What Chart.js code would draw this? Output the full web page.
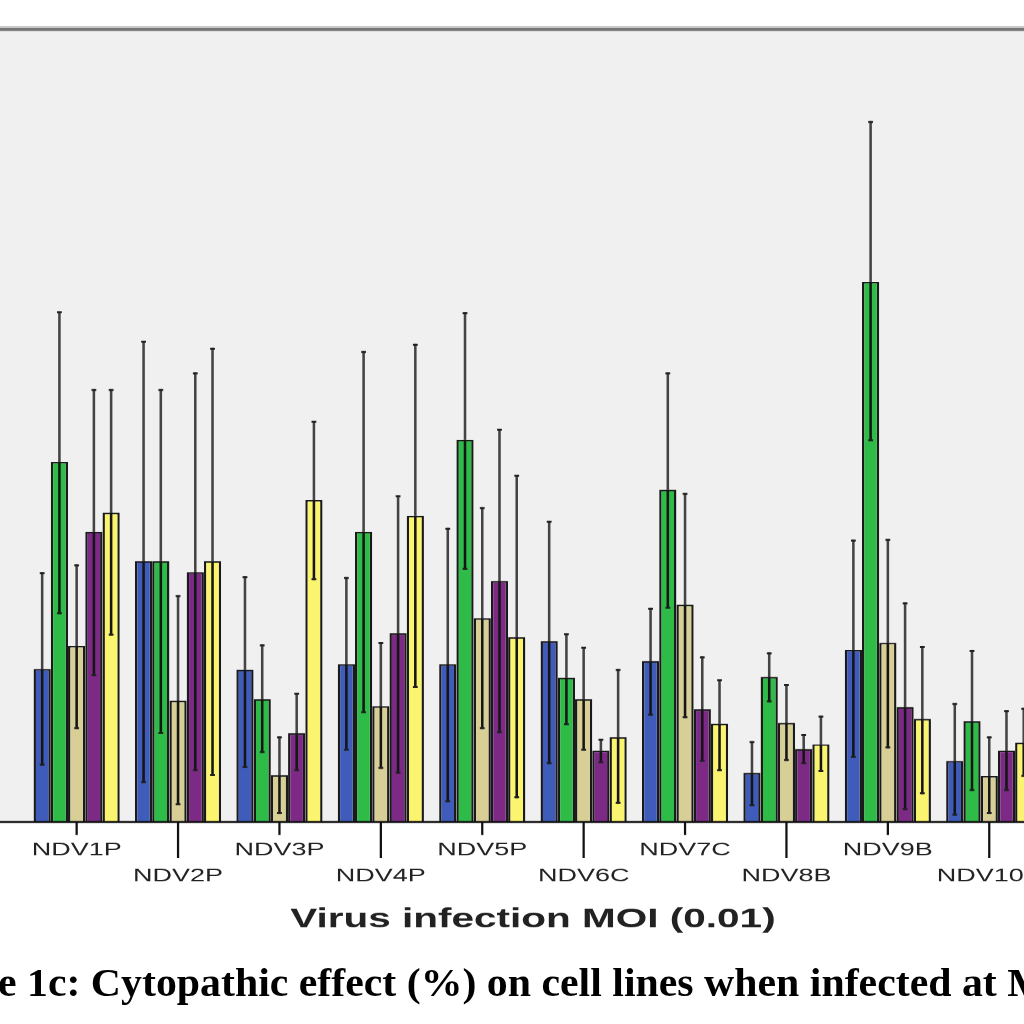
<!DOCTYPE html>
<html>
<head>
<meta charset="utf-8">
<script src="https://cdn.jsdelivr.net/npm/chart.js@4.4.1/dist/chart.umd.min.js"></script>
<style>
  html, body { margin: 0; padding: 0; background: #fff; width: 1024px; height: 1024px; overflow: hidden; }
  #wrap { position: absolute; left: 0; top: 0; width: 700px; height: 960px; transform: scaleX(1.5); transform-origin: 0 0; }
  #caption { position: absolute; left: -2px; top: 962px; font: bold 41px "Liberation Serif", "Times New Roman", serif; line-height: 41px; white-space: nowrap; color: #000; transform: scaleX(1.02); transform-origin: 0 0; }
</style>
</head>
<body>
<div id="wrap"><canvas id="myChart" width="700" height="960"></canvas></div>
<div id="caption">e 1c: Cytopathic effect (%) on cell lines when infected at M</div>
<script>
// categories on the x axis
const categories = ['NDV1P', 'NDV2P', 'NDV3P', 'NDV4P', 'NDV5P', 'NDV6C', 'NDV7C', 'NDV8B', 'NDV9B', 'NDV10B'];

// mean cytopathic effect (%) for each cell line
const blueMean   = [19.3, 32.9, 19.2, 19.9, 19.9, 22.8, 20.3, 6.2, 21.7, 7.7];
const greenMean  = [45.4, 32.9, 15.5, 36.6, 48.2, 18.2, 41.9, 18.3, 68.1, 12.7];
const tanMean    = [22.2, 15.3, 5.9, 14.6, 25.7, 15.5, 27.4, 12.5, 22.6, 5.8];
const purpleMean = [36.6, 31.5, 11.2, 23.8, 30.4, 9.0, 14.2, 9.2, 14.5, 9.0];
const yellowMean = [39.0, 32.9, 40.6, 38.6, 23.3, 10.7, 12.4, 9.8, 13.0, 10.0];

// error bar upper / lower ends
const blueHi   = [31.5, 60.7, 31.0, 30.9, 37.1, 38.0, 27.0, 10.2, 35.6, 15.0];
const blueLo   = [7.1, 4.9, 6.8, 9.0, 2.5, 7.3, 13.4, 2.0, 8.1, 0.8];
const greenHi  = [64.4, 54.6, 22.4, 59.4, 64.3, 23.8, 56.7, 21.4, 88.4, 21.7];
const greenLo  = [26.2, 11.1, 8.7, 13.7, 31.8, 12.2, 26.9, 15.1, 48.0, 3.9];
const tanHi    = [32.5, 28.6, 10.8, 22.7, 39.7, 22.1, 41.5, 17.4, 35.7, 10.8];
const tanLo    = [11.7, 2.1, 1.0, 6.7, 11.7, 9.0, 13.1, 7.7, 9.3, 1.0];
const purpleHi = [54.6, 56.7, 16.3, 41.2, 49.6, 10.5, 20.9, 11.1, 27.7, 14.1];
const purpleLo = [18.4, 6.4, 6.4, 6.1, 11.2, 7.4, 7.6, 7.3, 1.5, 3.9];
const yellowHi = [54.6, 59.8, 50.6, 60.3, 43.8, 19.3, 18.0, 13.4, 22.2, 14.4];
const yellowLo = [23.5, 5.8, 30.5, 16.9, 3.0, 2.3, 6.4, 6.3, 3.5, 5.7];

const errHi = [blueHi, greenHi, tanHi, purpleHi, yellowHi];
const errLo = [blueLo, greenLo, tanLo, purpleLo, yellowLo];

// plot background, top frame line, error bars, baseline and staggered tick marks
const frame = {
  id: 'frame',
  beforeDraw(chart) {
    const { ctx, chartArea } = chart;
    ctx.save();
    ctx.fillStyle = '#f0f0f0';
    ctx.fillRect(0, 31, chart.width, chartArea.bottom - 31);
    ctx.fillStyle = '#c8c8c8';
    ctx.fillRect(0, 26, chart.width, 5);
    ctx.fillStyle = '#777';
    ctx.fillRect(0, 28, chart.width, 3);
    ctx.restore();
  },
  afterDatasetsDraw(chart) {
    const { ctx } = chart;
    const y = chart.scales.y;
    ctx.save();
    chart.data.datasets.forEach((ds, d) => {
      const meta = chart.getDatasetMeta(d);
      meta.data.forEach((bar, i) => {
        const top = y.getPixelForValue(errHi[d][i]);
        const bot = y.getPixelForValue(errLo[d][i]);
        ctx.lineWidth = 1.7;
        ctx.strokeStyle = '#444';
        ctx.beginPath();
        ctx.moveTo(bar.x, top);
        ctx.lineTo(bar.x, Math.min(bot, bar.y));
        ctx.stroke();
        ctx.strokeStyle = '#151515';
        ctx.beginPath();
        ctx.moveTo(bar.x, Math.min(bar.y, bot));
        ctx.lineTo(bar.x, bot);
        ctx.stroke();
        ctx.lineWidth = 2;
        ctx.strokeStyle = '#222';
        ctx.beginPath();
        ctx.moveTo(bar.x - 1.6, top + 1);
        ctx.lineTo(bar.x + 1.6, top + 1);
        ctx.moveTo(bar.x - 1.6, bot - 1);
        ctx.lineTo(bar.x + 1.6, bot - 1);
        ctx.stroke();
      });
    });
    ctx.restore();
  },
  afterDraw(chart) {
    const { ctx, chartArea } = chart;
    const x = chart.scales.x;
    ctx.save();
    ctx.strokeStyle = '#111';
    ctx.lineWidth = 2;
    ctx.beginPath();
    ctx.moveTo(0, chartArea.bottom);
    ctx.lineTo(chart.width, chartArea.bottom);
    ctx.stroke();
    ctx.lineWidth = 1.5;
    categories.forEach((c, i) => {
      const px = x.getPixelForTick(i);
      ctx.beginPath();
      ctx.moveTo(px, chartArea.bottom);
      ctx.lineTo(px, chartArea.bottom + (i % 2 ? 36 : 13));
      ctx.stroke();
    });
    ctx.restore();
  }
};

const ctx = document.getElementById('myChart');

new Chart(ctx, {
  type: 'bar',
  data: {
    labels: categories,
    datasets: [
      { label: 'Cell line 1', data: blueMean, backgroundColor: '#3f5cba' },
      { label: 'Cell line 2', data: greenMean, backgroundColor: '#2fbb48' },
      { label: 'Cell line 3', data: tanMean, backgroundColor: '#d7cf96' },
      { label: 'Cell line 4', data: purpleMean, backgroundColor: '#7d2a87' },
      { label: 'Cell line 5', data: yellowMean, backgroundColor: '#fbf46e' }
    ]
  },
  options: {
    responsive: false,
    animation: false,
    devicePixelRatio: 1.5,
    layout: { padding: { left: 17.3, right: 6.7, top: 29, bottom: 0 } },
    datasets: {
      bar: { barPercentage: 1, categoryPercentage: 0.85, borderColor: '#1a1a1a', borderWidth: 1.6 }
    },
    plugins: { legend: { display: false }, tooltip: { enabled: false } },
    scales: {
      y: { display: false, min: 0, max: 100 },
      x: {
        grid: { display: false, drawTicks: false },
        border: { display: false },
        ticks: {
          autoSkip: false,
          maxRotation: 0,
          padding: 15,
          color: '#222',
          font: { family: 'Liberation Sans, Arial, sans-serif', size: 18, lineHeight: 1.45 },
          callback: (v, i) => (i % 2 ? ['', categories[i]] : categories[i])
        },
        title: {
          display: true,
          text: 'Virus infection MOI (0.01)',
          color: '#222',
          font: { family: 'Liberation Sans, Arial, sans-serif', size: 27, weight: 'bold' },
          padding: { top: 0, bottom: 24 }
        },
        afterFit: (axis) => {
          axis.height = 138;
          axis.paddingLeft = 0;
          axis.paddingRight = 0;
        }
      }
    }
  },
  plugins: [frame]
});
</script>
</body>
</html>
